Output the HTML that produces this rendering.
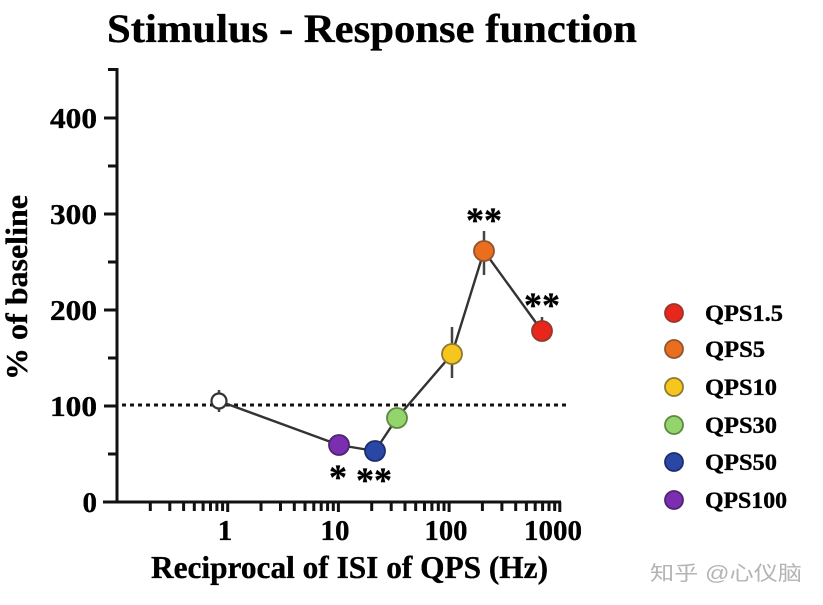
<!DOCTYPE html>
<html>
<head>
<meta charset="utf-8">
<style>
  html,body{margin:0;padding:0;background:#fff;}
  svg{display:block;}
  text{font-family:"Liberation Serif","Noto Serif CJK SC",serif;font-weight:bold;fill:#000;stroke:#000;stroke-width:0.35;}
</style>
</head>
<body>
<svg width="823" height="605" viewBox="0 0 823 605" xmlns="http://www.w3.org/2000/svg">
  <rect x="0" y="0" width="823" height="605" fill="#ffffff"/>

  <!-- Title -->
  <text x="107" y="42" font-size="40" textLength="530" lengthAdjust="spacingAndGlyphs">Stimulus - Response function</text>

  <!-- Y axis label -->
  <text transform="translate(27,380) rotate(-90)" x="0" y="0" font-size="31" textLength="185" lengthAdjust="spacingAndGlyphs">% of baseline</text>

  <!-- Y axis -->
  <g stroke="#111" stroke-width="3" fill="none">
    <line x1="117" y1="68" x2="117" y2="503"/>
    <line x1="104" y1="502" x2="117" y2="502"/>
    <line x1="104" y1="406" x2="117" y2="406"/>
    <line x1="104" y1="310" x2="117" y2="310"/>
    <line x1="104" y1="214" x2="117" y2="214"/>
    <line x1="104" y1="118" x2="117" y2="118"/>
    <line x1="108" y1="454" x2="117" y2="454"/>
    <line x1="108" y1="358" x2="117" y2="358"/>
    <line x1="108" y1="262" x2="117" y2="262"/>
    <line x1="108" y1="166" x2="117" y2="166"/>
    <line x1="108" y1="69.5" x2="117" y2="69.5"/>
  </g>

  <!-- Y tick labels -->
  <g font-size="29" text-anchor="end">
    <text x="97" y="512">0</text>
    <text x="97" y="416" textLength="47" lengthAdjust="spacingAndGlyphs">100</text>
    <text x="97" y="320" textLength="47" lengthAdjust="spacingAndGlyphs">200</text>
    <text x="97" y="224" textLength="47" lengthAdjust="spacingAndGlyphs">300</text>
    <text x="97" y="128" textLength="47" lengthAdjust="spacingAndGlyphs">400</text>
  </g>

  <!-- X axis -->
  <g stroke="#111" stroke-width="3" fill="none">
    <line x1="103" y1="502" x2="561" y2="502"/>
    <path d="
      M150.3 502 V511 M169.8 502 V511 M183.6 502 V511 M194.3 502 V511 M203.1 502 V511 M210.5 502 V511 M216.9 502 V511 M222.6 502 V511 M227.7 502 V512
      M261.0 502 V511 M280.5 502 V511 M294.3 502 V511 M305.0 502 V511 M313.8 502 V511 M321.2 502 V511 M327.6 502 V511 M333.3 502 V511 M338.4 502 V512
      M371.7 502 V511 M391.2 502 V511 M405.0 502 V511 M415.7 502 V511 M424.5 502 V511 M431.9 502 V511 M438.3 502 V511 M444.0 502 V511 M449.1 502 V512
      M482.4 502 V511 M501.9 502 V511 M515.7 502 V511 M526.4 502 V511 M535.2 502 V511 M542.6 502 V511 M549.0 502 V511 M554.7 502 V511 M559.8 502 V512"/>
  </g>

  <!-- X tick labels -->
  <g font-size="29" text-anchor="middle">
    <text x="225" y="540">1</text>
    <text x="335" y="540">10</text>
    <text x="446" y="540" textLength="43" lengthAdjust="spacingAndGlyphs">100</text>
    <text x="553" y="540" textLength="58" lengthAdjust="spacingAndGlyphs">1000</text>
  </g>

  <!-- X axis title -->
  <text x="151" y="578" font-size="32" textLength="397" lengthAdjust="spacingAndGlyphs">Reciprocal of ISI of QPS (Hz)</text>

  <!-- Baseline dotted line -->
  <line x1="122" y1="405" x2="566" y2="405" stroke="#111" stroke-width="3" stroke-dasharray="4 4"/>

  <!-- Connecting line -->
  <polyline points="219,401 339,445 375,451 397,418 452,354 484,251 542,331" fill="none" stroke="#333" stroke-width="2.4"/>

  <!-- Error bars -->
  <g stroke="#444" stroke-width="2.5">
    <line x1="219" y1="390" x2="219" y2="412"/>
    <line x1="339" y1="435" x2="339" y2="455"/>
    <line x1="375" y1="443" x2="375" y2="459"/>
    <line x1="397" y1="410" x2="397" y2="426"/>
    <line x1="452" y1="327" x2="452" y2="378"/>
    <line x1="484" y1="231" x2="484" y2="275"/>
    <line x1="542" y1="317" x2="542" y2="340"/>
  </g>

  <!-- Markers -->
  <circle cx="219" cy="401" r="7.5" fill="#ffffff" stroke="#333" stroke-width="2.2"/>
  <circle cx="339" cy="445" r="10" fill="#7b2fb0" stroke="#4e2570" stroke-width="1.8"/>
  <circle cx="375" cy="451" r="10" fill="#2a47a6" stroke="#1c2e6c" stroke-width="1.8"/>
  <circle cx="397" cy="418" r="10" fill="#93d46c" stroke="#5a8a40" stroke-width="1.8"/>
  <circle cx="452" cy="354" r="10" fill="#f6c61f" stroke="#8f7a2c" stroke-width="1.8"/>
  <circle cx="484" cy="251" r="10" fill="#ea6e1e" stroke="#8f5530" stroke-width="1.8"/>
  <circle cx="542" cy="331" r="10" fill="#e8261b" stroke="#96372c" stroke-width="1.8"/>

  <!-- Significance asterisks -->
  <g font-size="36" text-anchor="middle">
    <text x="484" y="232">**</text>
    <text x="542" y="317">**</text>
    <text x="338" y="489">*</text>
    <text x="374" y="492">**</text>
  </g>

  <!-- Legend -->
  <g>
    <circle cx="674" cy="313" r="9" fill="#e8261b" stroke="#96372c" stroke-width="1.8"/>
    <circle cx="674" cy="349" r="9" fill="#ea6e1e" stroke="#8f5530" stroke-width="1.8"/>
    <circle cx="674" cy="387" r="9" fill="#f6c61f" stroke="#8f7a2c" stroke-width="1.8"/>
    <circle cx="674" cy="425" r="9" fill="#93d46c" stroke="#5a8a40" stroke-width="1.8"/>
    <circle cx="674" cy="462" r="9" fill="#2a47a6" stroke="#1c2e6c" stroke-width="1.8"/>
    <circle cx="674" cy="500" r="9" fill="#7b2fb0" stroke="#4e2570" stroke-width="1.8"/>
  </g>
  <g font-size="23">
    <text x="705" y="321" textLength="78" lengthAdjust="spacingAndGlyphs">QPS1.5</text>
    <text x="705" y="357" textLength="60" lengthAdjust="spacingAndGlyphs">QPS5</text>
    <text x="705" y="395" textLength="72" lengthAdjust="spacingAndGlyphs">QPS10</text>
    <text x="705" y="433" textLength="72" lengthAdjust="spacingAndGlyphs">QPS30</text>
    <text x="705" y="470" textLength="72" lengthAdjust="spacingAndGlyphs">QPS50</text>
    <text x="705" y="508" textLength="82" lengthAdjust="spacingAndGlyphs">QPS100</text>
  </g>

  <!-- Watermark -->
  <text x="650" y="580" font-size="20" textLength="152" lengthAdjust="spacingAndGlyphs" style="font-family:'Liberation Sans','Noto Sans CJK SC',sans-serif;font-weight:normal;fill:#b4b4b4;stroke:none">知乎 @心仪脑</text>
</svg>
</body>
</html>
